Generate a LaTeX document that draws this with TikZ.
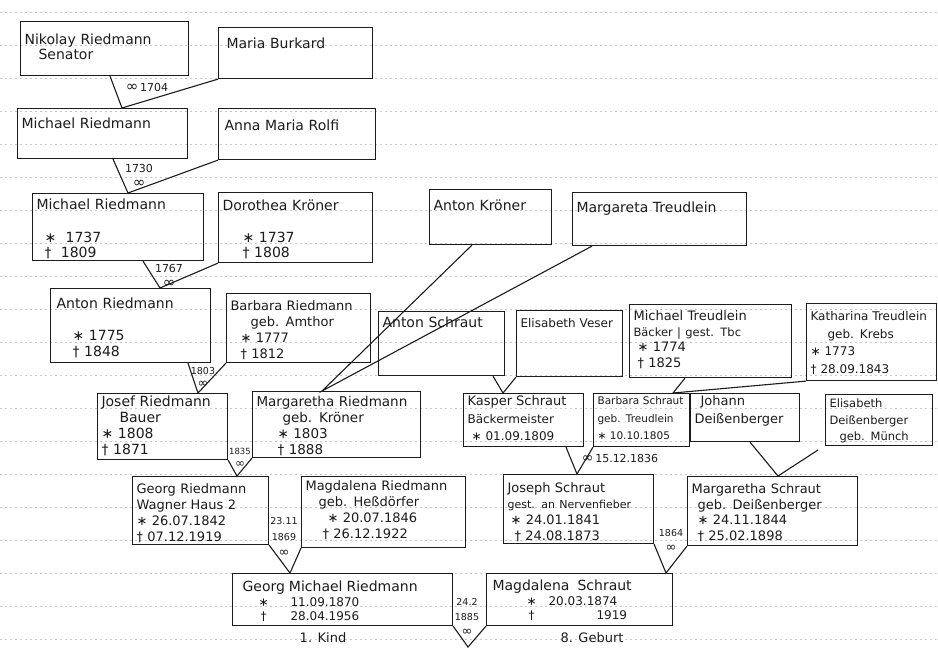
\documentclass[tikz,border=0pt]{standalone}
\usepackage{fontspec}
\setmainfont{DejaVu Sans}
\usepackage{tikz}
\usetikzlibrary{calc}
\definecolor{ink}{RGB}{28, 28, 28}
\definecolor{paperline}{RGB}{200, 200, 200}

\tikzset{
  person/.style={draw=ink, line width=1.1pt, anchor=north west, inner xsep=4pt, inner ysep=2pt,
                 align=left, text=ink, text height=15pt, font=\fontsize{13}{16}\selectfont},
  wedding/.style={draw=ink, line width=1.1pt},
  year/.style={text=ink, inner sep=0pt, align=center, font=\fontsize{9.5}{15}\selectfont},
  notebook/.style={draw=paperline, line width=0.6pt, dash pattern=on 2pt off 3pt}
}

\begin{document}
\begin{tikzpicture}[x=1pt, y=-1pt]
            \useasboundingbox                                            (0,0) rectangle (938,657);
            \fill[white]                                                  (0,0) rectangle (938,657);
            \foreach \y in {12,45,...,639}
                \draw[notebook] (0,\y) -- (938,\y);

            \node[person, text width=160, text height=21, text depth=29, font=\fontsize{14}{15}\selectfont] (nikolay)          at ( 20, 21) {Nikolay Riedmann\\\hspace*{14pt}Senator};
            \node[person, text width=146, text height=19, text depth=28, font=\fontsize{14}{15}\selectfont] (mariaBurkard)     at (218, 27) {\hspace*{4pt}Maria Burkard};
            \node[person, text width=162, text height=18, text depth=28, font=\fontsize{14}{15}\selectfont] (michaelSen)       at ( 17,108) {Michael Riedmann};
            \node[person, text width=149, text height=20, text depth=27, font=\fontsize{14}{15}\selectfont] (annaMaria)        at (218,108) {\hspace*{2pt}Anna Maria Rolfi};
            \node[person, text width=163, text height=14, text depth=49, font=\fontsize{14}{15}\selectfont] (michaelJun)       at ( 32,193) {Michael Riedmann\\[18pt]\hspace*{8pt}∗\ \ 1737\\\hspace*{8pt}†\ \ 1809};
            \node[person, text width=146, text height=16, text depth=50, font=\fontsize{14}{15}\selectfont] (dorothea)         at (218,192) {Dorothea Kröner\\[17pt]\hspace*{20pt}∗\ 1737\\\hspace*{20pt}†\ 1808};
            \node[person, text width=152, text height=18, text depth=52, font=\fontsize{14}{16}\selectfont] (antonRied)        at ( 50,288) {\hspace*{2pt}Anton Riedmann\\[16pt]\hspace*{18pt}∗\ 1775\\\hspace*{18pt}†\ 1848};
            \node[person, text width=136, text height=15, text depth=50]                                      (barbaraAmthor)    at (226,293) {Barbara Riedmann\\\hspace*{20pt}geb. Amthor\\\hspace*{10pt}∗\ 1777\\\hspace*{10pt}†\ 1812};
            \node[person, text width=114, text height=19, text depth=32, font=\fontsize{14}{15}\selectfont] (antonKroener)     at (429,189) {Anton Kröner};
            \node[person, text width=166, text height=18, text depth=31, font=\fontsize{14}{15}\selectfont] (margaretaTreu)    at (572,192) {Margareta Treudlein};
            \node[person, text width=118, text height=14, text depth=46, font=\fontsize{14}{15}\selectfont] (antonSchraut)     at (378,311) {Anton Schraut};
            \node[person, text width= 98, text height=15, text depth=47, font=\fontsize{12}{15}\selectfont] (elisabethVeser)   at (516,310) {Elisabeth Veser};
            \node[person, text width=154, text height=14, text depth=55, font=\fontsize{13}{15.5}\selectfont] (michaelTreu)    at (629,304) {Michael Treudlein\\{\fontsize{11.5}{15.5}\selectfont Bäcker | gest. Tbc}\\\hspace*{4pt}∗\ 1774\\\hspace*{4pt}†\ 1825};
            \node[person, text width=122, text height=15, text depth=58, font=\fontsize{12}{17.5}\selectfont] (katharina)      at (806,303) {Katharina Treudlein\\\hspace*{17pt}geb. Krebs\\∗\ 1773\\†\ 28.09.1843};
            \node[person, text width=122, text height=11, text depth=51, font=\fontsize{14}{16}\selectfont] (josef)            at ( 97,393) {Josef Riedmann\\\hspace*{18pt}Bauer\\∗\ 1808\\†\ 1871};
            \node[person, text width=160, text height=13, text depth=49, font=\fontsize{13.5}{16}\selectfont] (margarethaKroener) at (252,391) {Margaretha Riedmann\\\hspace*{26pt}geb. Kröner\\\hspace*{21pt}∗\ 1803\\\hspace*{21pt}†\ 1888};
            \node[person, text width=112, text height=10, text depth=39, font=\fontsize{12}{17.5}\selectfont] (kasper)         at (463,393) {{\fontsize{13}{17.5}\selectfont Kasper Schraut}\\Bäckermeister\\\hspace*{4pt}∗\ 01.09.1809};
            \node[person, text width= 88, text height= 9, text depth=40, font=\fontsize{10.5}{17.5}\selectfont] (barbaraTreu)  at (593,393) {Barbara Schraut\\geb. Treudlein\\∗\ 10.10.1805};
            \node[person, text width=101, text height=10, text depth=34, font=\fontsize{13}{18}\selectfont] (johann)           at (690,393) {\hspace*{6pt}Johann\\Deißenberger};
            \node[person, text width= 99, text height=11, text depth=36, font=\fontsize{11.5}{16.5}\selectfont] (elisabethMuench) at (825,394) {Elisabeth\\Deißenberger\\\hspace*{10pt}geb. Münch};
            \node[person, text width=128, text height=15, text depth=49]                                      (georg)            at (132,476) {Georg Riedmann\\Wagner Haus 2\\∗\ 26.07.1842\\†\ 07.12.1919};
            \node[person, text width=156, text height=12, text depth=55]                                      (magdalenaHess)    at (301,476) {Magdalena Riedmann\\\hspace*{13pt}geb. Heßdörfer\\\hspace*{22pt}∗\ 20.07.1846\\\hspace*{17pt}†\ 26.12.1922};
            \node[person, text width=142, text height=16, text depth=49]                                      (joseph)           at (503,474) {Joseph Schraut\\{\fontsize{11}{16}\selectfont gest. an Nervenfieber}\\\hspace*{3pt}∗\ 24.01.1841\\\hspace*{7pt}†\ 24.08.1873};
            \node[person, text width=162, text height=15, text depth=50, font=\fontsize{13}{15.5}\selectfont] (margarethaDeiss) at (687,476) {Margaretha Schraut\\\hspace*{6pt}geb. Deißenberger\\\hspace*{6pt}∗\ 24.11.1844\\\hspace*{6pt}†\ 25.02.1898};
            \node[person, text width=212, text height=16, text depth=32, font=\fontsize{12}{14.5}\selectfont] (georgMichael)   at (232,573) {{\fontsize{14}{14.5}\selectfont\hspace*{6pt}Georg Michael Riedmann}\\\hspace*{22pt}∗\hspace{22pt}11.09.1870\\\hspace*{24pt}†\hspace{24pt}28.04.1956};
            \node[person, text width=178, text height=15, text depth=33, font=\fontsize{12}{14.5}\selectfont] (magdalenaSchraut) at (486,573) {{\fontsize{14}{14.5}\selectfont\hspace*{2pt}Magdalena\ \ Schraut}\\\hspace*{36pt}∗\hspace{12pt}20.03.1874\\\hspace*{38pt}†\hspace{62pt}1919};

            \coordinate (nextGen)   at (468,647);
            \coordinate (muenchEnd) at (818,450);

            \draw[wedding] ([xshift= 90]nikolay.south west)      -- ([xshift=105]michaelSen.north west)        -- (mariaBurkard.south west);
            \draw[wedding] ([xshift= 96]michaelSen.south west)   -- ([xshift= 96]michaelJun.north west)        -- (annaMaria.south west);
            \draw[wedding] ([xshift=111]michaelJun.south west)   -- ([xshift=110]antonRied.north west)         -- (dorothea.south west);
            \draw[wedding] ([xshift=138]antonRied.south west)    -- ([xshift=101]josef.north west)             -- (barbaraAmthor.south west);
            \draw[wedding] ([xshift= 43]antonKroener.south west) -- ([xshift= 70]margarethaKroener.north west) -- ([xshift= 20]margaretaTreu.south west);
            \draw[wedding] ([xshift=115]antonSchraut.south west) -- ([xshift= 40]kasper.north west)            -- (elisabethVeser.south west);
            \draw[wedding] ([xshift= 56]michaelTreu.south west)  -- ([xshift= 80]barbaraTreu.north west)       -- (katharina.south west);
            \draw[wedding] (josef.south east)                    -- ([xshift=105]georg.north west)             -- (margarethaKroener.south west);
            \draw[wedding] ([xshift=103]kasper.south west)       -- ([xshift= 74]joseph.north west)            -- (barbaraTreu.south west);
            \draw[wedding] ([xshift= 60]johann.south west)       -- ([xshift= 91]margarethaDeiss.north west)   -- (muenchEnd);
            \draw[wedding] (georg.south east)                    -- ([xshift= 58]georgMichael.north west)      -- (magdalenaHess.south west);
            \draw[wedding] (joseph.south east)                   -- ([xshift=180]magdalenaSchraut.north west)  -- (margarethaDeiss.south west);
            \draw[wedding] (georgMichael.south east)             -- (nextGen)                                  -- (magdalenaSchraut.south west);

            \node[year, font=\fontsize{11}{13}\selectfont]            (y1704) at (147, 87) {{\fontsize{15}{13}\selectfont ∞}\,1704};
            \node[year, font=\fontsize{11}{15}\selectfont]            (y1730) at (139,176) {1730\\{\fontsize{15}{15}\selectfont ∞}};
            \node[year, font=\fontsize{11}{15}\selectfont]            (y1767) at (169,276) {1767\\{\fontsize{15}{15}\selectfont ∞}};
            \node[year, font=\fontsize{9.5}{13}\selectfont]           (y1803) at (203,377) {1803\\{\fontsize{13}{13}\selectfont ∞}};
            \node[year, font=\fontsize{8.5}{13}\selectfont]           (y1835) at (240,458) {1835\\{\fontsize{12}{13}\selectfont ∞}};
            \node[year, font=\fontsize{11}{13}\selectfont]            (y1836) at (620,458) {{\fontsize{14}{13}\selectfont ∞}\,15.12.1836};
            \node[year, font=\fontsize{9.5}{16}\selectfont]           (y1869) at (284,537) {23.11\\1869\\{\fontsize{13}{16}\selectfont ∞}};
            \node[year]                                               (y1864) at (671,540) {1864\\{\fontsize{13}{15}\selectfont ∞}};
            \node[year]                                               (y1885) at (467,617) {24.2\\1885\\{\fontsize{13}{15}\selectfont ∞}};
            \node[year, font=\fontsize{13}{15}\selectfont]            (kind)   at (323,638) {1. Kind};
            \node[year, font=\fontsize{13}{15}\selectfont]            (geburt) at (592,638) {8. Geburt};
\end{tikzpicture}
\end{document}
